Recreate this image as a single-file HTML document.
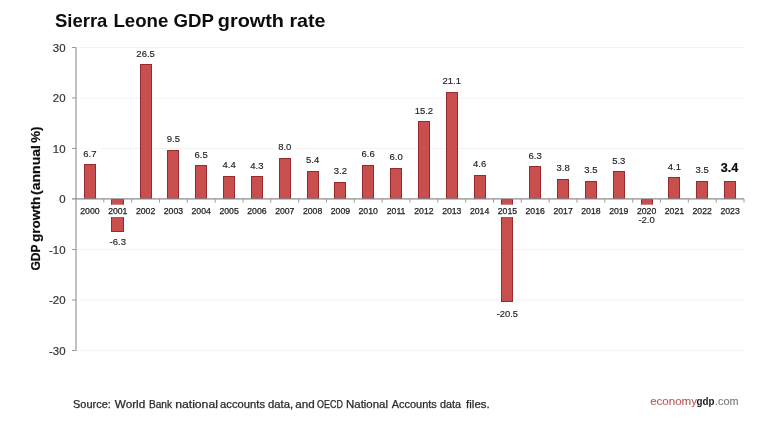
<!DOCTYPE html>
<html><head><meta charset="utf-8"><title>Sierra Leone GDP growth rate</title>
<style>html,body{margin:0;padding:0;background:#fff;}body{width:768px;height:422px;overflow:hidden;}svg{display:block;will-change:transform;}text{font-family:"Liberation Sans",sans-serif;}</style>
</head><body>
<svg width="768" height="422" viewBox="0 0 768 422">
<rect x="0" y="0" width="768" height="422" fill="#ffffff"/>
<line x1="76.0" y1="47.5" x2="744.0" y2="47.5" stroke="#f3f3f3" stroke-width="1"/>
<line x1="76.0" y1="98.0" x2="744.0" y2="98.0" stroke="#f3f3f3" stroke-width="1"/>
<line x1="76.0" y1="148.5" x2="744.0" y2="148.5" stroke="#f3f3f3" stroke-width="1"/>
<line x1="76.0" y1="249.5" x2="744.0" y2="249.5" stroke="#f3f3f3" stroke-width="1"/>
<line x1="76.0" y1="300.0" x2="744.0" y2="300.0" stroke="#f3f3f3" stroke-width="1"/>
<line x1="76.0" y1="350.5" x2="744.0" y2="350.5" stroke="#f3f3f3" stroke-width="1"/>
<rect x="84" y="164" width="12" height="35" fill="#c94f4f"/>
<rect x="84.5" y="164.5" width="11" height="34" fill="none" stroke="#962a2f" stroke-width="1"/>
<rect x="111" y="199" width="13" height="33" fill="#c94f4f"/>
<rect x="111.5" y="199.5" width="12" height="32" fill="none" stroke="#962a2f" stroke-width="1"/>
<rect x="140" y="64" width="12" height="135" fill="#c94f4f"/>
<rect x="140.5" y="64.5" width="11" height="134" fill="none" stroke="#962a2f" stroke-width="1"/>
<rect x="167" y="150" width="12" height="49" fill="#c94f4f"/>
<rect x="167.5" y="150.5" width="11" height="48" fill="none" stroke="#962a2f" stroke-width="1"/>
<rect x="195" y="165" width="12" height="34" fill="#c94f4f"/>
<rect x="195.5" y="165.5" width="11" height="33" fill="none" stroke="#962a2f" stroke-width="1"/>
<rect x="223" y="176" width="12" height="23" fill="#c94f4f"/>
<rect x="223.5" y="176.5" width="11" height="22" fill="none" stroke="#962a2f" stroke-width="1"/>
<rect x="251" y="176" width="12" height="23" fill="#c94f4f"/>
<rect x="251.5" y="176.5" width="11" height="22" fill="none" stroke="#962a2f" stroke-width="1"/>
<rect x="279" y="158" width="12" height="41" fill="#c94f4f"/>
<rect x="279.5" y="158.5" width="11" height="40" fill="none" stroke="#962a2f" stroke-width="1"/>
<rect x="307" y="171" width="12" height="28" fill="#c94f4f"/>
<rect x="307.5" y="171.5" width="11" height="27" fill="none" stroke="#962a2f" stroke-width="1"/>
<rect x="334" y="182" width="12" height="17" fill="#c94f4f"/>
<rect x="334.5" y="182.5" width="11" height="16" fill="none" stroke="#962a2f" stroke-width="1"/>
<rect x="362" y="165" width="12" height="34" fill="#c94f4f"/>
<rect x="362.5" y="165.5" width="11" height="33" fill="none" stroke="#962a2f" stroke-width="1"/>
<rect x="390" y="168" width="12" height="31" fill="#c94f4f"/>
<rect x="390.5" y="168.5" width="11" height="30" fill="none" stroke="#962a2f" stroke-width="1"/>
<rect x="418" y="121" width="12" height="78" fill="#c94f4f"/>
<rect x="418.5" y="121.5" width="11" height="77" fill="none" stroke="#962a2f" stroke-width="1"/>
<rect x="446" y="92" width="12" height="107" fill="#c94f4f"/>
<rect x="446.5" y="92.5" width="11" height="106" fill="none" stroke="#962a2f" stroke-width="1"/>
<rect x="474" y="175" width="12" height="24" fill="#c94f4f"/>
<rect x="474.5" y="175.5" width="11" height="23" fill="none" stroke="#962a2f" stroke-width="1"/>
<rect x="501" y="199" width="12" height="103" fill="#c94f4f"/>
<rect x="501.5" y="199.5" width="11" height="102" fill="none" stroke="#962a2f" stroke-width="1"/>
<rect x="529" y="166" width="12" height="33" fill="#c94f4f"/>
<rect x="529.5" y="166.5" width="11" height="32" fill="none" stroke="#962a2f" stroke-width="1"/>
<rect x="557" y="179" width="12" height="20" fill="#c94f4f"/>
<rect x="557.5" y="179.5" width="11" height="19" fill="none" stroke="#962a2f" stroke-width="1"/>
<rect x="585" y="181" width="12" height="18" fill="#c94f4f"/>
<rect x="585.5" y="181.5" width="11" height="17" fill="none" stroke="#962a2f" stroke-width="1"/>
<rect x="613" y="171" width="12" height="28" fill="#c94f4f"/>
<rect x="613.5" y="171.5" width="11" height="27" fill="none" stroke="#962a2f" stroke-width="1"/>
<rect x="641" y="199" width="12" height="11" fill="#c94f4f"/>
<rect x="641.5" y="199.5" width="11" height="10" fill="none" stroke="#962a2f" stroke-width="1"/>
<rect x="668" y="177" width="12" height="22" fill="#c94f4f"/>
<rect x="668.5" y="177.5" width="11" height="21" fill="none" stroke="#962a2f" stroke-width="1"/>
<rect x="696" y="181" width="12" height="18" fill="#c94f4f"/>
<rect x="696.5" y="181.5" width="11" height="17" fill="none" stroke="#962a2f" stroke-width="1"/>
<rect x="724" y="181" width="12" height="18" fill="#c94f4f"/>
<rect x="724.5" y="181.5" width="11" height="17" fill="none" stroke="#962a2f" stroke-width="1"/>
<line x1="76.0" y1="47.5" x2="76.0" y2="350.5" stroke="#989898" stroke-width="1.2"/>
<line x1="72.0" y1="198.8" x2="744.0" y2="198.8" stroke="#8c8c8c" stroke-width="1.2"/>
<line x1="72.0" y1="47.5" x2="76.0" y2="47.5" stroke="#9a9a9a" stroke-width="1"/>
<line x1="72.0" y1="98.0" x2="76.0" y2="98.0" stroke="#9a9a9a" stroke-width="1"/>
<line x1="72.0" y1="148.5" x2="76.0" y2="148.5" stroke="#9a9a9a" stroke-width="1"/>
<line x1="72.0" y1="249.5" x2="76.0" y2="249.5" stroke="#9a9a9a" stroke-width="1"/>
<line x1="72.0" y1="300.0" x2="76.0" y2="300.0" stroke="#9a9a9a" stroke-width="1"/>
<line x1="72.0" y1="350.5" x2="76.0" y2="350.5" stroke="#9a9a9a" stroke-width="1"/>
<line x1="103.8" y1="199.0" x2="103.8" y2="202.5" stroke="#9a9a9a" stroke-width="1"/>
<line x1="131.7" y1="199.0" x2="131.7" y2="202.5" stroke="#9a9a9a" stroke-width="1"/>
<line x1="159.5" y1="199.0" x2="159.5" y2="202.5" stroke="#9a9a9a" stroke-width="1"/>
<line x1="187.3" y1="199.0" x2="187.3" y2="202.5" stroke="#9a9a9a" stroke-width="1"/>
<line x1="215.2" y1="199.0" x2="215.2" y2="202.5" stroke="#9a9a9a" stroke-width="1"/>
<line x1="243.0" y1="199.0" x2="243.0" y2="202.5" stroke="#9a9a9a" stroke-width="1"/>
<line x1="270.8" y1="199.0" x2="270.8" y2="202.5" stroke="#9a9a9a" stroke-width="1"/>
<line x1="298.7" y1="199.0" x2="298.7" y2="202.5" stroke="#9a9a9a" stroke-width="1"/>
<line x1="326.5" y1="199.0" x2="326.5" y2="202.5" stroke="#9a9a9a" stroke-width="1"/>
<line x1="354.3" y1="199.0" x2="354.3" y2="202.5" stroke="#9a9a9a" stroke-width="1"/>
<line x1="382.2" y1="199.0" x2="382.2" y2="202.5" stroke="#9a9a9a" stroke-width="1"/>
<line x1="410.0" y1="199.0" x2="410.0" y2="202.5" stroke="#9a9a9a" stroke-width="1"/>
<line x1="437.8" y1="199.0" x2="437.8" y2="202.5" stroke="#9a9a9a" stroke-width="1"/>
<line x1="465.7" y1="199.0" x2="465.7" y2="202.5" stroke="#9a9a9a" stroke-width="1"/>
<line x1="493.5" y1="199.0" x2="493.5" y2="202.5" stroke="#9a9a9a" stroke-width="1"/>
<line x1="521.3" y1="199.0" x2="521.3" y2="202.5" stroke="#9a9a9a" stroke-width="1"/>
<line x1="549.2" y1="199.0" x2="549.2" y2="202.5" stroke="#9a9a9a" stroke-width="1"/>
<line x1="577.0" y1="199.0" x2="577.0" y2="202.5" stroke="#9a9a9a" stroke-width="1"/>
<line x1="604.8" y1="199.0" x2="604.8" y2="202.5" stroke="#9a9a9a" stroke-width="1"/>
<line x1="632.7" y1="199.0" x2="632.7" y2="202.5" stroke="#9a9a9a" stroke-width="1"/>
<line x1="660.5" y1="199.0" x2="660.5" y2="202.5" stroke="#9a9a9a" stroke-width="1"/>
<line x1="688.3" y1="199.0" x2="688.3" y2="202.5" stroke="#9a9a9a" stroke-width="1"/>
<line x1="716.2" y1="199.0" x2="716.2" y2="202.5" stroke="#9a9a9a" stroke-width="1"/>
<line x1="744.0" y1="199.0" x2="744.0" y2="202.5" stroke="#9a9a9a" stroke-width="1"/>
<rect x="78.4" y="204.7" width="23" height="12.3" fill="#ffffff"/>
<text x="89.9" y="214" font-size="8.7" text-anchor="middle" fill="#222" stroke="#222" stroke-width="0.25">2000</text>
<rect x="106.2" y="204.7" width="23" height="12.3" fill="#ffffff"/>
<text x="117.8" y="214" font-size="8.7" text-anchor="middle" fill="#222" stroke="#222" stroke-width="0.25">2001</text>
<rect x="134.1" y="204.7" width="23" height="12.3" fill="#ffffff"/>
<text x="145.6" y="214" font-size="8.7" text-anchor="middle" fill="#222" stroke="#222" stroke-width="0.25">2002</text>
<rect x="161.9" y="204.7" width="23" height="12.3" fill="#ffffff"/>
<text x="173.4" y="214" font-size="8.7" text-anchor="middle" fill="#222" stroke="#222" stroke-width="0.25">2003</text>
<rect x="189.8" y="204.7" width="23" height="12.3" fill="#ffffff"/>
<text x="201.2" y="214" font-size="8.7" text-anchor="middle" fill="#222" stroke="#222" stroke-width="0.25">2004</text>
<rect x="217.6" y="204.7" width="23" height="12.3" fill="#ffffff"/>
<text x="229.1" y="214" font-size="8.7" text-anchor="middle" fill="#222" stroke="#222" stroke-width="0.25">2005</text>
<rect x="245.4" y="204.7" width="23" height="12.3" fill="#ffffff"/>
<text x="256.9" y="214" font-size="8.7" text-anchor="middle" fill="#222" stroke="#222" stroke-width="0.25">2006</text>
<rect x="273.2" y="204.7" width="23" height="12.3" fill="#ffffff"/>
<text x="284.8" y="214" font-size="8.7" text-anchor="middle" fill="#222" stroke="#222" stroke-width="0.25">2007</text>
<rect x="301.1" y="204.7" width="23" height="12.3" fill="#ffffff"/>
<text x="312.6" y="214" font-size="8.7" text-anchor="middle" fill="#222" stroke="#222" stroke-width="0.25">2008</text>
<rect x="328.9" y="204.7" width="23" height="12.3" fill="#ffffff"/>
<text x="340.4" y="214" font-size="8.7" text-anchor="middle" fill="#222" stroke="#222" stroke-width="0.25">2009</text>
<rect x="356.8" y="204.7" width="23" height="12.3" fill="#ffffff"/>
<text x="368.2" y="214" font-size="8.7" text-anchor="middle" fill="#222" stroke="#222" stroke-width="0.25">2010</text>
<rect x="384.6" y="204.7" width="23" height="12.3" fill="#ffffff"/>
<text x="396.1" y="214" font-size="8.7" text-anchor="middle" fill="#222" stroke="#222" stroke-width="0.25">2011</text>
<rect x="412.4" y="204.7" width="23" height="12.3" fill="#ffffff"/>
<text x="423.9" y="214" font-size="8.7" text-anchor="middle" fill="#222" stroke="#222" stroke-width="0.25">2012</text>
<rect x="440.2" y="204.7" width="23" height="12.3" fill="#ffffff"/>
<text x="451.8" y="214" font-size="8.7" text-anchor="middle" fill="#222" stroke="#222" stroke-width="0.25">2013</text>
<rect x="468.1" y="204.7" width="23" height="12.3" fill="#ffffff"/>
<text x="479.6" y="214" font-size="8.7" text-anchor="middle" fill="#222" stroke="#222" stroke-width="0.25">2014</text>
<rect x="495.9" y="204.7" width="23" height="12.3" fill="#ffffff"/>
<text x="507.4" y="214" font-size="8.7" text-anchor="middle" fill="#222" stroke="#222" stroke-width="0.25">2015</text>
<rect x="523.8" y="204.7" width="23" height="12.3" fill="#ffffff"/>
<text x="535.2" y="214" font-size="8.7" text-anchor="middle" fill="#222" stroke="#222" stroke-width="0.25">2016</text>
<rect x="551.6" y="204.7" width="23" height="12.3" fill="#ffffff"/>
<text x="563.1" y="214" font-size="8.7" text-anchor="middle" fill="#222" stroke="#222" stroke-width="0.25">2017</text>
<rect x="579.4" y="204.7" width="23" height="12.3" fill="#ffffff"/>
<text x="590.9" y="214" font-size="8.7" text-anchor="middle" fill="#222" stroke="#222" stroke-width="0.25">2018</text>
<rect x="607.2" y="204.7" width="23" height="12.3" fill="#ffffff"/>
<text x="618.8" y="214" font-size="8.7" text-anchor="middle" fill="#222" stroke="#222" stroke-width="0.25">2019</text>
<rect x="635.1" y="204.7" width="23" height="12.3" fill="#ffffff"/>
<text x="646.6" y="214" font-size="8.7" text-anchor="middle" fill="#222" stroke="#222" stroke-width="0.25">2020</text>
<rect x="662.9" y="204.7" width="23" height="12.3" fill="#ffffff"/>
<text x="674.4" y="214" font-size="8.7" text-anchor="middle" fill="#222" stroke="#222" stroke-width="0.25">2021</text>
<rect x="690.8" y="204.7" width="23" height="12.3" fill="#ffffff"/>
<text x="702.2" y="214" font-size="8.7" text-anchor="middle" fill="#222" stroke="#222" stroke-width="0.25">2022</text>
<rect x="718.6" y="204.7" width="23" height="12.3" fill="#ffffff"/>
<text x="730.1" y="214" font-size="8.7" text-anchor="middle" fill="#222" stroke="#222" stroke-width="0.25">2023</text>
<rect x="78.4" y="148.3" width="23" height="10.5" fill="#ffffff"/>
<text x="89.9" y="156.5" font-size="9.5" text-anchor="middle" fill="#1e1e1e" stroke="#1e1e1e" stroke-width="0.15">6.7</text>
<rect x="106.2" y="236.8" width="23" height="10.5" fill="#ffffff"/>
<text x="117.8" y="245.0" font-size="9.5" text-anchor="middle" fill="#1e1e1e" stroke="#1e1e1e" stroke-width="0.15">-6.3</text>
<rect x="134.1" y="48.3" width="23" height="10.5" fill="#ffffff"/>
<text x="145.6" y="56.5" font-size="9.5" text-anchor="middle" fill="#1e1e1e" stroke="#1e1e1e" stroke-width="0.15">26.5</text>
<rect x="161.9" y="134.1" width="23" height="10.5" fill="#ffffff"/>
<text x="173.4" y="142.3" font-size="9.5" text-anchor="middle" fill="#1e1e1e" stroke="#1e1e1e" stroke-width="0.15">9.5</text>
<rect x="189.8" y="149.3" width="23" height="10.5" fill="#ffffff"/>
<text x="201.2" y="157.5" font-size="9.5" text-anchor="middle" fill="#1e1e1e" stroke="#1e1e1e" stroke-width="0.15">6.5</text>
<rect x="217.6" y="159.9" width="23" height="10.5" fill="#ffffff"/>
<text x="229.1" y="168.1" font-size="9.5" text-anchor="middle" fill="#1e1e1e" stroke="#1e1e1e" stroke-width="0.15">4.4</text>
<rect x="245.4" y="160.4" width="23" height="10.5" fill="#ffffff"/>
<text x="256.9" y="168.6" font-size="9.5" text-anchor="middle" fill="#1e1e1e" stroke="#1e1e1e" stroke-width="0.15">4.3</text>
<rect x="273.2" y="141.7" width="23" height="10.5" fill="#ffffff"/>
<text x="284.8" y="149.9" font-size="9.5" text-anchor="middle" fill="#1e1e1e" stroke="#1e1e1e" stroke-width="0.15">8.0</text>
<rect x="301.1" y="154.8" width="23" height="10.5" fill="#ffffff"/>
<text x="312.6" y="163.0" font-size="9.5" text-anchor="middle" fill="#1e1e1e" stroke="#1e1e1e" stroke-width="0.15">5.4</text>
<rect x="328.9" y="165.9" width="23" height="10.5" fill="#ffffff"/>
<text x="340.4" y="174.1" font-size="9.5" text-anchor="middle" fill="#1e1e1e" stroke="#1e1e1e" stroke-width="0.15">3.2</text>
<rect x="356.8" y="148.8" width="23" height="10.5" fill="#ffffff"/>
<text x="368.2" y="157.0" font-size="9.5" text-anchor="middle" fill="#1e1e1e" stroke="#1e1e1e" stroke-width="0.15">6.6</text>
<rect x="384.6" y="151.8" width="23" height="10.5" fill="#ffffff"/>
<text x="396.1" y="160.0" font-size="9.5" text-anchor="middle" fill="#1e1e1e" stroke="#1e1e1e" stroke-width="0.15">6.0</text>
<rect x="412.4" y="105.3" width="23" height="10.5" fill="#ffffff"/>
<text x="423.9" y="113.5" font-size="9.5" text-anchor="middle" fill="#1e1e1e" stroke="#1e1e1e" stroke-width="0.15">15.2</text>
<rect x="440.2" y="75.5" width="23" height="10.5" fill="#ffffff"/>
<text x="451.8" y="83.7" font-size="9.5" text-anchor="middle" fill="#1e1e1e" stroke="#1e1e1e" stroke-width="0.15">21.1</text>
<rect x="468.1" y="158.9" width="23" height="10.5" fill="#ffffff"/>
<text x="479.6" y="167.1" font-size="9.5" text-anchor="middle" fill="#1e1e1e" stroke="#1e1e1e" stroke-width="0.15">4.6</text>
<rect x="494.4" y="308.5" width="26" height="10.5" fill="#ffffff"/>
<text x="507.4" y="316.7" font-size="9.5" text-anchor="middle" fill="#1e1e1e" stroke="#1e1e1e" stroke-width="0.15" textLength="21.4" lengthAdjust="spacingAndGlyphs">-20.5</text>
<rect x="523.8" y="150.3" width="23" height="10.5" fill="#ffffff"/>
<text x="535.2" y="158.5" font-size="9.5" text-anchor="middle" fill="#1e1e1e" stroke="#1e1e1e" stroke-width="0.15">6.3</text>
<rect x="551.6" y="162.9" width="23" height="10.5" fill="#ffffff"/>
<text x="563.1" y="171.1" font-size="9.5" text-anchor="middle" fill="#1e1e1e" stroke="#1e1e1e" stroke-width="0.15">3.8</text>
<rect x="579.4" y="164.4" width="23" height="10.5" fill="#ffffff"/>
<text x="590.9" y="172.6" font-size="9.5" text-anchor="middle" fill="#1e1e1e" stroke="#1e1e1e" stroke-width="0.15">3.5</text>
<rect x="607.2" y="155.3" width="23" height="10.5" fill="#ffffff"/>
<text x="618.8" y="163.5" font-size="9.5" text-anchor="middle" fill="#1e1e1e" stroke="#1e1e1e" stroke-width="0.15">5.3</text>
<rect x="635.1" y="215.1" width="23" height="10.5" fill="#ffffff"/>
<text x="646.6" y="223.3" font-size="9.5" text-anchor="middle" fill="#1e1e1e" stroke="#1e1e1e" stroke-width="0.15">-2.0</text>
<rect x="662.9" y="161.4" width="23" height="10.5" fill="#ffffff"/>
<text x="674.4" y="169.6" font-size="9.5" text-anchor="middle" fill="#1e1e1e" stroke="#1e1e1e" stroke-width="0.15">4.1</text>
<rect x="690.8" y="164.4" width="23" height="10.5" fill="#ffffff"/>
<text x="702.2" y="172.6" font-size="9.5" text-anchor="middle" fill="#1e1e1e" stroke="#1e1e1e" stroke-width="0.15">3.5</text>
<rect x="718.1" y="161.1" width="24" height="13" fill="#ffffff"/>
<text x="729.4" y="172.1" font-size="12.6" font-weight="bold" text-anchor="middle" fill="#0a0a0a" stroke="#0a0a0a" stroke-width="0.2">3.4</text>
<text x="65.5" y="51.7" font-size="11.4" text-anchor="end" fill="#333" stroke="#333" stroke-width="0.2">30</text>
<text x="65.5" y="102.2" font-size="11.4" text-anchor="end" fill="#333" stroke="#333" stroke-width="0.2">20</text>
<text x="65.5" y="152.7" font-size="11.4" text-anchor="end" fill="#333" stroke="#333" stroke-width="0.2">10</text>
<text x="65.5" y="203.2" font-size="11.4" text-anchor="end" fill="#333" stroke="#333" stroke-width="0.2">0</text>
<text x="65.5" y="253.7" font-size="11.4" text-anchor="end" fill="#333" stroke="#333" stroke-width="0.2">-10</text>
<text x="65.5" y="304.2" font-size="11.4" text-anchor="end" fill="#333" stroke="#333" stroke-width="0.2">-20</text>
<text x="65.5" y="354.7" font-size="11.4" text-anchor="end" fill="#333" stroke="#333" stroke-width="0.2">-30</text>
<text x="55.0" y="26.6" font-size="18.6" font-weight="bold" fill="#0d0d0d" textLength="52.4" lengthAdjust="spacingAndGlyphs">Sierra</text>
<text x="113.4" y="26.6" font-size="18.6" font-weight="bold" fill="#0d0d0d" textLength="55.0" lengthAdjust="spacingAndGlyphs">Leone</text>
<text x="173.6" y="26.6" font-size="18.6" font-weight="bold" fill="#0d0d0d" textLength="40.4" lengthAdjust="spacingAndGlyphs">GDP</text>
<text x="217.8" y="26.6" font-size="18.6" font-weight="bold" fill="#0d0d0d" textLength="66.2" lengthAdjust="spacingAndGlyphs">growth</text>
<text x="289.4" y="26.6" font-size="18.6" font-weight="bold" fill="#0d0d0d" textLength="36.2" lengthAdjust="spacingAndGlyphs">rate</text>
<text transform="translate(40.4,270.6) rotate(-90)" font-size="13" font-weight="bold" fill="#0d0d0d" stroke="#0d0d0d" stroke-width="0.2" textLength="26.0" lengthAdjust="spacingAndGlyphs">GDP</text>
<text transform="translate(40.4,242.0) rotate(-90)" font-size="13" font-weight="bold" fill="#0d0d0d" stroke="#0d0d0d" stroke-width="0.2" textLength="45.2" lengthAdjust="spacingAndGlyphs">growth</text>
<text transform="translate(40.4,195.0) rotate(-90)" font-size="13" font-weight="bold" fill="#0d0d0d" stroke="#0d0d0d" stroke-width="0.2" textLength="50.0" lengthAdjust="spacingAndGlyphs">(annual</text>
<text transform="translate(40.4,142.8) rotate(-90)" font-size="13" font-weight="bold" fill="#0d0d0d" stroke="#0d0d0d" stroke-width="0.2" textLength="16.2" lengthAdjust="spacingAndGlyphs">%)</text>
<text x="73.0" y="408.1" font-size="10.4" fill="#2a2a2a" stroke="#2a2a2a" stroke-width="0.25" textLength="37.8" lengthAdjust="spacingAndGlyphs">Source:</text>
<text x="114.8" y="408.1" font-size="10.4" fill="#2a2a2a" stroke="#2a2a2a" stroke-width="0.25" textLength="30.4" lengthAdjust="spacingAndGlyphs">World</text>
<text x="148.9" y="408.1" font-size="10.4" fill="#2a2a2a" stroke="#2a2a2a" stroke-width="0.25" textLength="23.2" lengthAdjust="spacingAndGlyphs">Bank</text>
<text x="175.2" y="408.1" font-size="10.4" fill="#2a2a2a" stroke="#2a2a2a" stroke-width="0.25" textLength="42.7" lengthAdjust="spacingAndGlyphs">national</text>
<text x="220.1" y="408.1" font-size="10.4" fill="#2a2a2a" stroke="#2a2a2a" stroke-width="0.25" textLength="44.9" lengthAdjust="spacingAndGlyphs">accounts</text>
<text x="268.0" y="408.1" font-size="10.4" fill="#2a2a2a" stroke="#2a2a2a" stroke-width="0.25" textLength="25.1" lengthAdjust="spacingAndGlyphs">data,</text>
<text x="295.3" y="408.1" font-size="10.4" fill="#2a2a2a" stroke="#2a2a2a" stroke-width="0.25" textLength="19.4" lengthAdjust="spacingAndGlyphs">and</text>
<text x="317.1" y="408.1" font-size="10.4" fill="#2a2a2a" stroke="#2a2a2a" stroke-width="0.25" textLength="25.9" lengthAdjust="spacingAndGlyphs">OECD</text>
<text x="346.0" y="408.1" font-size="10.4" fill="#2a2a2a" stroke="#2a2a2a" stroke-width="0.25" textLength="42.0" lengthAdjust="spacingAndGlyphs">National</text>
<text x="391.8" y="408.1" font-size="10.4" fill="#2a2a2a" stroke="#2a2a2a" stroke-width="0.25" textLength="45.0" lengthAdjust="spacingAndGlyphs">Accounts</text>
<text x="440.0" y="408.1" font-size="10.4" fill="#2a2a2a" stroke="#2a2a2a" stroke-width="0.25" textLength="21.0" lengthAdjust="spacingAndGlyphs">data</text>
<text x="466.1" y="408.1" font-size="10.4" fill="#2a2a2a" stroke="#2a2a2a" stroke-width="0.25" textLength="23.6" lengthAdjust="spacingAndGlyphs">files.</text>
<text x="650.2" y="405.3" font-size="10.6" fill="#b9605c" stroke="#b9605c" stroke-width="0.15" textLength="46.8" lengthAdjust="spacingAndGlyphs">economy</text>
<text x="696.4" y="405.3" font-size="10.6" font-weight="bold" fill="#1c1c1c" textLength="18.0" lengthAdjust="spacingAndGlyphs">gdp</text>
<text x="715.0" y="405.3" font-size="10.6" fill="#7c7c7c" stroke="#7c7c7c" stroke-width="0.15" textLength="23.6" lengthAdjust="spacingAndGlyphs">.com</text>
</svg></body></html>
